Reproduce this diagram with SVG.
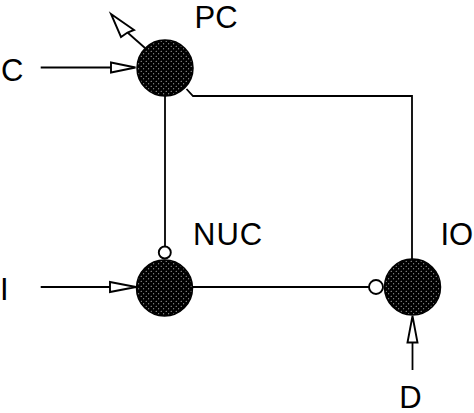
<svg xmlns="http://www.w3.org/2000/svg" width="474" height="413" viewBox="0 0 474 413">
<style>
.lbl{font-family:"Liberation Sans",Arial,sans-serif;font-size:31px;fill:#000}
.ln{fill:none;stroke:#000;stroke-width:1.8}
.head{fill:#fff;stroke:#000;stroke-width:1.9;stroke-linejoin:miter}
.node{fill:url(#dots);stroke:#000;stroke-width:1.5}
</style>
<defs>
<pattern id="dots" patternUnits="userSpaceOnUse" width="5" height="5">
<rect width="5" height="5" fill="#000"/>
<circle cx="1.2" cy="1.2" r="0.5" fill="#fff"/>
<circle cx="3.7" cy="3.7" r="0.5" fill="#fff"/>
</pattern>
</defs>
<rect width="474" height="413" fill="#fff"/>
<g id="connectors">
<path class="ln" d="M40.7,67.5 H111"/>
<polygon class="head" points="111,62.5 135.5,67.5 111,72.5"/>
<path class="ln" d="M145,48 L127.5,32.5"/>
<polygon class="head" points="111,14 134,30 127.5,32.5 121,37"/>
<path class="ln" d="M186.5,89 L193,96 H412 V259"/>
<path class="ln" d="M165,96 V246.5"/>
<circle class="head" cx="164.8" cy="252.5" r="6"/>
<path class="ln" d="M40.7,287 H110"/>
<polygon class="head" points="110,282 136,287 110,292"/>
<path class="ln" d="M192.5,287 H369"/>
<circle class="head" cx="376" cy="287" r="7"/>
<path class="ln" d="M412.5,370 V342.5"/>
<polygon class="head" points="407.5,342.5 412.5,316 417.5,342.5"/>
</g>
<g id="PC">
<circle class="node" cx="165" cy="68" r="28"/>
<text class="lbl" x="194.5" y="27.5">PC</text>
</g>
<g id="NUC">
<circle class="node" cx="164.5" cy="288" r="28"/>
<text class="lbl" x="193" y="244.5" letter-spacing="1">NUC</text>
</g>
<g id="IO">
<circle class="node" cx="412.5" cy="287" r="28"/>
<text class="lbl" x="440.5" y="245">IO</text>
</g>
<g id="C"><text class="lbl" x="1" y="80.5">C</text></g>
<g id="I"><text class="lbl" x="0" y="300">I</text></g>
<g id="D"><text class="lbl" x="410.5" y="407.5" text-anchor="middle">D</text></g>
</svg>
